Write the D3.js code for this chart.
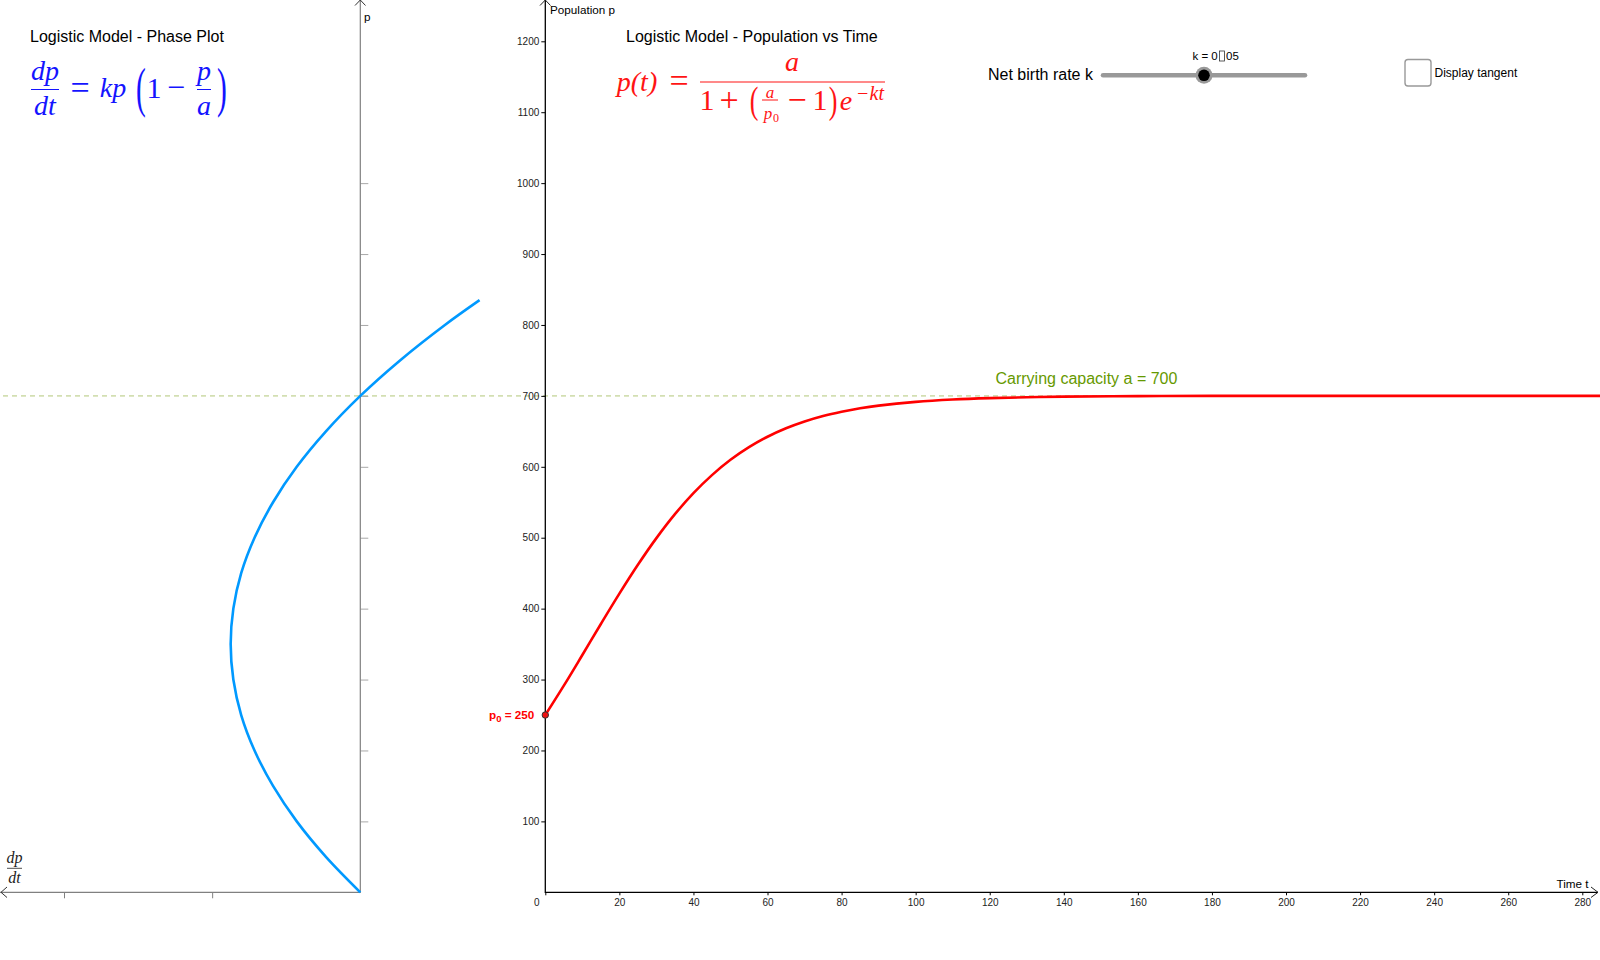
<!DOCTYPE html>
<html>
<head>
<meta charset="utf-8">
<script src="https://cdn.jsdelivr.net/npm/d3@7/dist/d3.min.js"></script>
<style>
body{margin:0;background:#fff;}
text{font-family:"Liberation Sans",Arial,sans-serif;}
.m{font-family:"Liberation Serif",serif;}
.mi{font-family:"Liberation Serif",serif;font-style:italic;}
</style>
</head>
<body>
<div id="chart"></div>
<script>
// values
var timeT=[0,5,10,15,20,25,30,35,40,45,50,55,60,65,70,75,80,85,90,100,110,120,130,140,160,180,220,285];
var popP=[250,291.4,334.6,378.3,421.1,461.8,499.4,533.2,562.9,588.3,609.9,627.7,642.4,654.3,663.9,671.6,677.6,682.5,686.3,691.6,694.9,696.9,698.1,698.9,699.6,700,700,700];
var phaseP=[0,50,100,150,200,250,300,350,400,450,500,550,600,650,700,750,800,835];
var phaseRate=[0,2.32,4.29,5.89,7.14,8.04,8.57,8.75,8.57,8.04,7.14,5.89,4.29,2.32,0,-2.68,-5.71,-8.05];
var timeTicks=[0,20,40,60,80,100,120,140,160,180,200,220,240,260,280];
var popTicks=[100,200,300,400,500,600,700,800,900,1000,1100,1200];
var phasePTicks=[100,200,300,400,500,600,700,800,900,1000];
var phaseRateTicks=[10,20];
var capacity=700;
var p0=250;

var svg=d3.select('#chart').append('svg').attr('width',1600).attr('height',960).style('display','block');

var x=d3.scaleLinear().domain([0,280]).range([545.3,1582.3]);
var y=d3.scaleLinear().domain([0,1200]).range([892.3,41.3]);
var xL=d3.scaleLinear().domain([0,20]).range([360.3,64]);

// dashed carrying capacity line, goes under both panels
svg.append('line').attr('x1',3).attr('x2',1600).attr('y1',y(capacity)).attr('y2',y(capacity))
  .attr('stroke','#d3dfb2').attr('stroke-width',1.6).attr('stroke-dasharray','5,4');

// left panel axes
var gray='#808080';
var lx=svg.append('g').attr('transform','translate(0,'+y(0)+')')
  .call(d3.axisBottom(xL).tickValues(phaseRateTicks).tickSize(6).tickFormat(''));
lx.select('.domain').remove();
lx.selectAll('line').attr('stroke',gray);
var ly=svg.append('g').attr('transform','translate('+xL(0)+',0)')
  .call(d3.axisRight(y).tickValues(phasePTicks).tickSize(8).tickFormat(''));
ly.select('.domain').remove();
ly.selectAll('line').attr('stroke','#a8a8a8');
svg.append('path').attr('d','M0,'+y(0)+'H'+xL(0)+'V0').attr('fill','none').attr('stroke',gray).attr('stroke-width',1.2);
svg.append('path').attr('d','M7,887L1,892.3L7,897.5M355,5.5L360.3,0L365.5,5.5').attr('fill','none').attr('stroke','#333');

// right panel axes
var rx=svg.append('g').attr('transform','translate(0,'+y(0)+')')
  .call(d3.axisBottom(x).tickValues(timeTicks).tickSize(3).tickPadding(4).tickFormat(d3.format('d')));
rx.select('.domain').remove();
rx.selectAll('text').attr('font-size',10).attr('font-family','"Liberation Sans"').attr('fill','#222')
  .attr('dx',function(d){return d==0?-9:0;});
var ry=svg.append('g').attr('transform','translate('+x(0)+',0)')
  .call(d3.axisLeft(y).tickValues(popTicks).tickSize(4).tickPadding(2).tickFormat(d3.format('d')));
ry.select('.domain').remove();
ry.selectAll('text').attr('font-size',10).attr('font-family','"Liberation Sans"').attr('fill','#222');
svg.append('path').attr('d','M'+x(0)+',0V'+y(0)+'H1598').attr('fill','none').attr('stroke','#000').attr('stroke-width',1.3);
svg.append('path').attr('d','M540,5.5L545.3,0L550.5,5.5M1591,887L1598,892.3L1591,897.5').attr('fill','none').attr('stroke','#222');

// curves
var phaseLine=d3.line().x(function(d){return xL(d[1]);}).y(function(d){return y(d[0]);}).curve(d3.curveCatmullRom);
svg.append('path').datum(d3.zip(phaseP,phaseRate)).attr('d',phaseLine)
  .attr('fill','none').attr('stroke','#0099ff').attr('stroke-width',2.6);
var popLine=d3.line().x(function(d){return x(d[0]);}).y(function(d){return y(d[1]);}).curve(d3.curveCatmullRom);
svg.append('path').datum(d3.zip(timeT,popP)).attr('d',popLine)
  .attr('fill','none').attr('stroke','#ff0000').attr('stroke-width',2.6);
svg.append('circle').attr('cx',x(0)).attr('cy',y(p0)).attr('r',3.2)
  .attr('fill','#ee1111').attr('stroke','#333').attr('stroke-width',1);

function label(px,py,s,size,color,weight){
  return svg.append('text').attr('x',px).attr('y',py).text(s).attr('font-size',size)
    .attr('fill',color||'#000').attr('font-weight',weight||'normal');
}
function m(px,py,s,size,color,cls,anchor){
  return svg.append('text').attr('class',cls||'mi').attr('x',px).attr('y',py).text(s)
    .attr('font-size',size).attr('fill',color).attr('text-anchor',anchor||'middle');
}
function bar(x1,x2,py,color,w){
  svg.append('line').attr('x1',x1).attr('x2',x2).attr('y1',py).attr('y2',py).attr('stroke',color).attr('stroke-width',w||1);
}
function paren(px,py,s,sx,sy,size,color){
  svg.append('text').attr('class','m').attr('transform','translate('+px+','+py+') scale('+sx+','+sy+')')
    .text(s).attr('font-size',size).attr('fill',color).attr('text-anchor','middle').style('font-weight',200);
}

// texts
label(30,42,'Logistic Model - Phase Plot',16);
label(626,41.5,'Logistic Model - Population vs Time',16);
label(364,21,'p',11.7);
label(550,14,'Population p',11.7);
label(1556.5,888,'Time t',11.7);
label(995.5,384,'Carrying capacity a = 700',16,'#669900');
var p0Label=label(489,719,'p',11.7,'#ff0000','bold');
p0Label.append('tspan').attr('dy',3).attr('font-size',9.5).text('0');
p0Label.append('tspan').attr('dy',-3).text(' = 250');

// blue equation
var blue='#1414ff';
m(45,80,'dp',28,blue);
bar(31,59,89.5,blue);
m(45,115,'dt',28,blue);
m(80,99,'=',34,blue,'m');
m(113,97,'kp',28,blue);
paren(141,106,'(',1.05,1.95,28,blue);
m(154,98,'1',30,blue,'m');
m(176,98,'−',32,blue,'m');
m(204,80,'p',28,blue);
bar(197,211,89.5,blue);
m(204,115,'a',28,blue);
paren(222,106,')',1.05,1.95,28,blue);

// red equation
var red='#ff1414';
m(637,91,'p(t)',28,red);
m(679,92,'=',34,red,'m');
m(792,71,'a',28,red);
bar(700,885,82,red,1.2);
m(707,110,'1',30,red,'m');
m(729,111,'+',34,red,'m');
paren(754,113,'(',1,1.45,26,red);
m(770,98,'a',17,red);
bar(762,778,100,red);
m(768,119,'p',17,red);
m(776,122,'0',12,red,'m');
m(797,111,'−',34,red,'m');
m(820,110,'1',30,red,'m');
paren(833,113,')',1,1.45,26,red);
m(846,110,'e',28,red);
m(870,100,'−kt',20,red);
m(14.5,863,'dp',16,'#222');
bar(7,22,868.3,'#222',0.8);
m(14.5,883,'dt',16,'#222');

// slider and checkbox
label(988,80,'Net birth rate k',16);
svg.append('line').attr('x1',1103).attr('x2',1305).attr('y1',75.3).attr('y2',75.3)
  .attr('stroke','#999').attr('stroke-width',4.5).attr('stroke-linecap','round');
svg.append('circle').attr('cx',1204).attr('cy',75.3).attr('r',8.5).attr('fill','#999');
svg.append('circle').attr('cx',1204).attr('cy',75.3).attr('r',5.8).attr('fill','#000');
label(1192.5,60,'k = 0',11.5);
svg.append('rect').attr('x',1219.5).attr('y',51).attr('width',5).attr('height',10).attr('fill','none').attr('stroke','#333').attr('stroke-width',0.8);
label(1226,60,'05',11.5);
svg.append('rect').attr('x',1405).attr('y',59.5).attr('width',26).attr('height',26.5).attr('rx',3)
  .attr('fill','#fff').attr('stroke','#999').attr('stroke-width',1.4);
label(1434.5,77,'Display tangent',12);
</script>
</body>
</html>
